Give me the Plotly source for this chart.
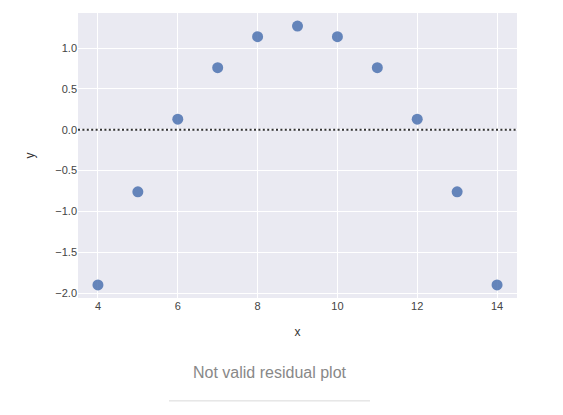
import plotly.graph_objects as go

x_vals = [4, 5, 6, 7, 8, 9, 10, 11, 12, 13, 14]
residuals = [-1.90, -0.76, 0.13, 0.76, 1.14, 1.27, 1.14, 0.76, 0.13, -0.76, -1.90]
x_ticks = [4, 6, 8, 10, 12, 14]
y_ticks = [-2.0, -1.5, -1.0, -0.5, 0.0, 0.5, 1.0]
y_tick_text = ["\u22122.0", "\u22121.5", "\u22121.0", "\u22120.5", "0.0", "0.5", "1.0"]
caption = "Not valid residual plot"

fig = go.Figure()
fig.add_trace(go.Scatter(
    x=[3.5, 14.5], y=[0, 0], mode="lines",
    line=dict(color="#333333", width=2, dash="2px,2.4px"),
    hoverinfo="skip", showlegend=False,
))
fig.add_trace(go.Scatter(
    x=x_vals, y=residuals, mode="markers",
    marker=dict(color="rgba(76,114,176,0.85)", size=11, line=dict(width=0)),
    showlegend=False,
))

fig.update_layout(
    width=555, height=407,
    margin=dict(l=70, r=46, t=5, b=117),
    paper_bgcolor="white",
    plot_bgcolor="#EAEAF2",
    font=dict(family="Liberation Sans, Arial, sans-serif", color="#444444", size=11),
    xaxis=dict(
        range=[3.5, 14.5], tickvals=x_ticks, showgrid=True, gridcolor="white",
        gridwidth=1, zeroline=False, showline=False, ticks="", ticklen=0,
        tickfont=dict(size=11, color="#444444"),
        title=dict(text="x", font=dict(size=12, color="#333333"), standoff=16),
    ),
    yaxis=dict(
        range=[-2.06, 1.43], tickvals=y_ticks, ticktext=y_tick_text,
        showgrid=True, gridcolor="white", gridwidth=1, zeroline=False,
        showline=False, ticks="", tickfont=dict(size=11, color="#444444"),
        title=dict(text="y", font=dict(size=12, color="#333333"), standoff=18),
    ),
    annotations=[dict(
        text=caption, xref="paper", yref="paper", x=0.437, y=-0.26,
        xanchor="center", yanchor="middle", showarrow=False,
        font=dict(size=16, color="#888888"),
    )],
    shapes=[dict(
        type="line", xref="paper", yref="paper",
        x0=(169 - 78) / 439, x1=(370 - 78) / 439, y0=-0.361, y1=-0.361,
        line=dict(color="#d9d9d9", width=1),
    )],
)

fig.write_html("out.html")
